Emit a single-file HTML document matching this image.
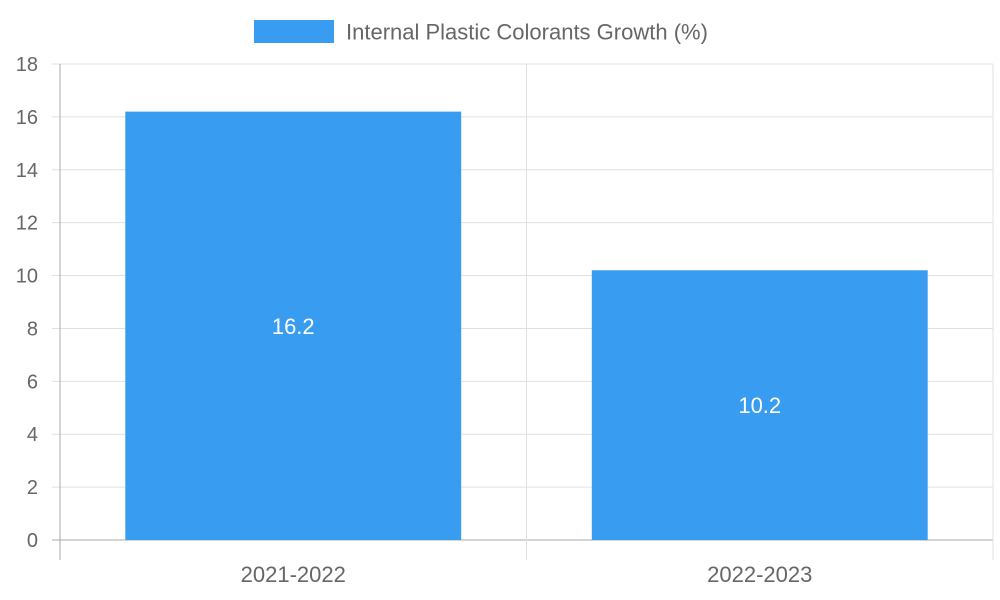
<!DOCTYPE html>
<html><head><meta charset="utf-8">
<style>
html,body{margin:0;padding:0;background:#fff;}
svg{display:block;font-family:"Liberation Sans",sans-serif;}
</style></head>
<body>
<svg id="chart" width="1000" height="600">
  <g>
    <rect x="254" y="20" width="80" height="23" fill="#389cf0"/>
    <text x="346" y="39.5" font-size="22" fill="#666">Internal Plastic Colorants Growth (%)</text>
  </g>
  <g id="grid"></g>
  <g id="yticks"></g>
  <g id="xticks"></g>
  <g id="bars"></g>
</svg>
<script>
const categories = ["2021-2022", "2022-2023"];
const values = [16.2, 10.2];
const yTicks = [0, 2, 4, 6, 8, 10, 12, 14, 16, 18];
const yMax = 18;

const NS = "http://www.w3.org/2000/svg";
const L = 60, R = 993, T = 64, B = 540;
const y = v => B - (v / yMax) * (B - T);
const catW = (R - L) / categories.length;
const x = i => L + catW * i;
function mk(tag, attrs, parent) {
  const e = document.createElementNS(NS, tag);
  for (const k in attrs) e.setAttribute(k, attrs[k]);
  parent.appendChild(e);
  return e;
}
const grid = document.getElementById("grid");
const yg = document.getElementById("yticks");
const xg = document.getElementById("xticks");
const bg = document.getElementById("bars");

yTicks.forEach(t => {
  const ln = mk("line", {x1: L - 8, x2: R, y1: y(t), y2: y(t), stroke: t === 0 ? "#aaa" : "#e0e0e0", "stroke-width": 1}, grid);
  
  
  const tx = mk("text", {x: L - 22, y: y(t) + 7, "text-anchor": "end", "font-size": 20, fill: "#666"}, yg);
  tx.textContent = t;
  
  
});
for (let i = 0; i <= categories.length; i++) {
  const ln = mk("line", {x1: x(i), x2: x(i), y1: T, y2: B + 20, stroke: i === 0 ? "#aaa" : "#e0e0e0", "stroke-width": 1}, grid);
  
  
}
categories.forEach((c, i) => {
  const cx = x(i) + catW / 2;
  const tx = mk("text", {x: cx, y: B + 42, "text-anchor": "middle", "font-size": 22, fill: "#666"}, xg);
  tx.textContent = c;
  
  
  const bw = catW * 0.72;
  const r = mk("rect", {x: cx - bw / 2, y: y(values[i]), width: bw, height: B - y(values[i]), fill: "#389cf0"}, bg);
  
  
  const lb = mk("text", {x: cx, y: (y(values[i]) + B) / 2 + 8, "text-anchor": "middle", "font-size": 22, fill: "#fff"}, bg);
  lb.textContent = values[i];
  
  
});
</script>
</body></html>
